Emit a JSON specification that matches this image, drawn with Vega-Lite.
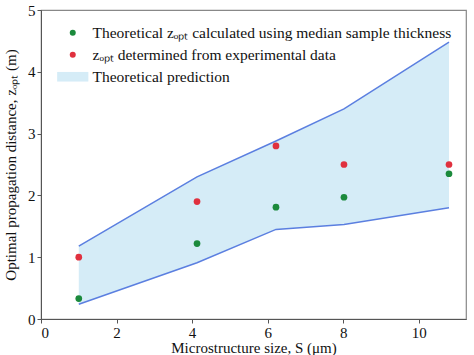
{
  "$schema": "https://vega.github.io/schema/vega-lite/v6.json",
  "width": 425,
  "height": 309,
  "autosize": "none",
  "padding": {"left": 41, "top": 10, "right": 8, "bottom": 36},
  "background": "white",
  "config": {
    "font": "Liberation Serif",
    "view": {"stroke": "#888888", "strokeWidth": 1.2},
    "axis": {
      "grid": false,
      "domainColor": "#555555",
      "tickColor": "#555555",
      "labelFont": "Liberation Serif",
      "titleFont": "Liberation Serif",
      "labelFontSize": 15,
      "titleFontSize": 15,
      "titleFontWeight": "normal",
      "labelColor": "#111111",
      "titleColor": "#111111",
      "tickSize": 4,
      "labelPadding": 2
    },
    "legend": {
      "labelFont": "Liberation Serif",
      "labelFontSize": 15,
      "labelColor": "#111111",
      "labelLimit": 420
    }
  },
  "datasets": {
    "band": [
      {"S": 1.0, "lower": 0.24, "upper": 1.18, "series": "Theoretical prediction"},
      {"S": 4.13, "lower": 0.91, "upper": 2.3, "series": "Theoretical prediction"},
      {"S": 6.22, "lower": 1.45, "upper": 2.88, "series": "Theoretical prediction"},
      {"S": 8.02, "lower": 1.53, "upper": 3.4, "series": "Theoretical prediction"},
      {"S": 10.8, "lower": 1.8, "upper": 4.48, "series": "Theoretical prediction"}
    ],
    "points": [
      {"S": 1.0, "z": 0.33, "series": "Theoretical zₒₚₜ calculated using median sample thickness"},
      {"S": 4.13, "z": 1.22, "series": "Theoretical zₒₚₜ calculated using median sample thickness"},
      {"S": 6.22, "z": 1.81, "series": "Theoretical zₒₚₜ calculated using median sample thickness"},
      {"S": 8.02, "z": 1.97, "series": "Theoretical zₒₚₜ calculated using median sample thickness"},
      {"S": 10.8, "z": 2.35, "series": "Theoretical zₒₚₜ calculated using median sample thickness"},
      {"S": 1.0, "z": 1.0, "series": "zₒₚₜ determined from experimental data"},
      {"S": 4.13, "z": 1.9, "series": "zₒₚₜ determined from experimental data"},
      {"S": 6.22, "z": 2.8, "series": "zₒₚₜ determined from experimental data"},
      {"S": 8.02, "z": 2.5, "series": "zₒₚₜ determined from experimental data"},
      {"S": 10.8, "z": 2.5, "series": "zₒₚₜ determined from experimental data"}
    ]
  },
  "encoding": {
    "x": {
      "field": "S", "type": "quantitative",
      "scale": {"domain": [0, 11.25], "nice": false, "zero": false},
      "axis": {"values": [0, 2, 4, 6, 8, 10], "format": "d", "title": "Microstructure size, S (μm)", "titlePadding": 0, "labelFont": "Liberation Serif", "titleFont": "Liberation Serif"}
    }
  },
  "layer": [
    {
      "data": {"name": "band"},
      "mark": {"type": "area", "opacity": 1},
      "encoding": {
        "y": {
          "field": "upper", "type": "quantitative",
          "scale": {"domain": [0, 5], "nice": false},
          "axis": {"values": [0, 1, 2, 3, 4, 5], "format": "d", "title": "Optimal propagation distance, zₒₚₜ (m)", "titlePadding": 9, "labelFont": "Liberation Serif", "titleFont": "Liberation Serif"}
        },
        "y2": {"field": "lower"},
        "color": {"field": "series", "type": "nominal"}
      }
    },
    {
      "data": {"name": "band"},
      "mark": {"type": "line", "color": "#5b7fe0", "strokeWidth": 1.5},
      "encoding": {"y": {"field": "upper", "type": "quantitative"}}
    },
    {
      "data": {"name": "band"},
      "mark": {"type": "line", "color": "#5b7fe0", "strokeWidth": 1.5},
      "encoding": {"y": {"field": "lower", "type": "quantitative"}}
    },
    {
      "data": {"name": "points"},
      "mark": {"type": "point", "filled": true, "opacity": 1, "size": 45},
      "encoding": {
        "y": {"field": "z", "type": "quantitative"},
        "color": {
          "field": "series", "type": "nominal",
          "scale": {
            "domain": ["Theoretical zₒₚₜ calculated using median sample thickness", "zₒₚₜ determined from experimental data", "Theoretical prediction"],
            "range": ["#1b8a3c", "#e0313f", "#d5ecf7"]
          },
          "legend": {
            "title": null,
            "orient": "none",
            "legendX": 16,
            "legendY": 7,
            "padding": 8,
            "rowPadding": 5,
            "symbolSize": 36,
            "symbolOpacity": 1,
            "labelOffset": 12,
            "labelFont": "Liberation Serif",
            "labelFontSize": 15.5
          }
        },
        "shape": {
          "field": "series", "type": "nominal",
          "scale": {
            "domain": ["Theoretical zₒₚₜ calculated using median sample thickness", "zₒₚₜ determined from experimental data", "Theoretical prediction"],
            "range": ["circle", "circle", "M-5.2,-1.6H5.2V1.6H-5.2Z"]
          }
        }
      }
    }
  ]
}
